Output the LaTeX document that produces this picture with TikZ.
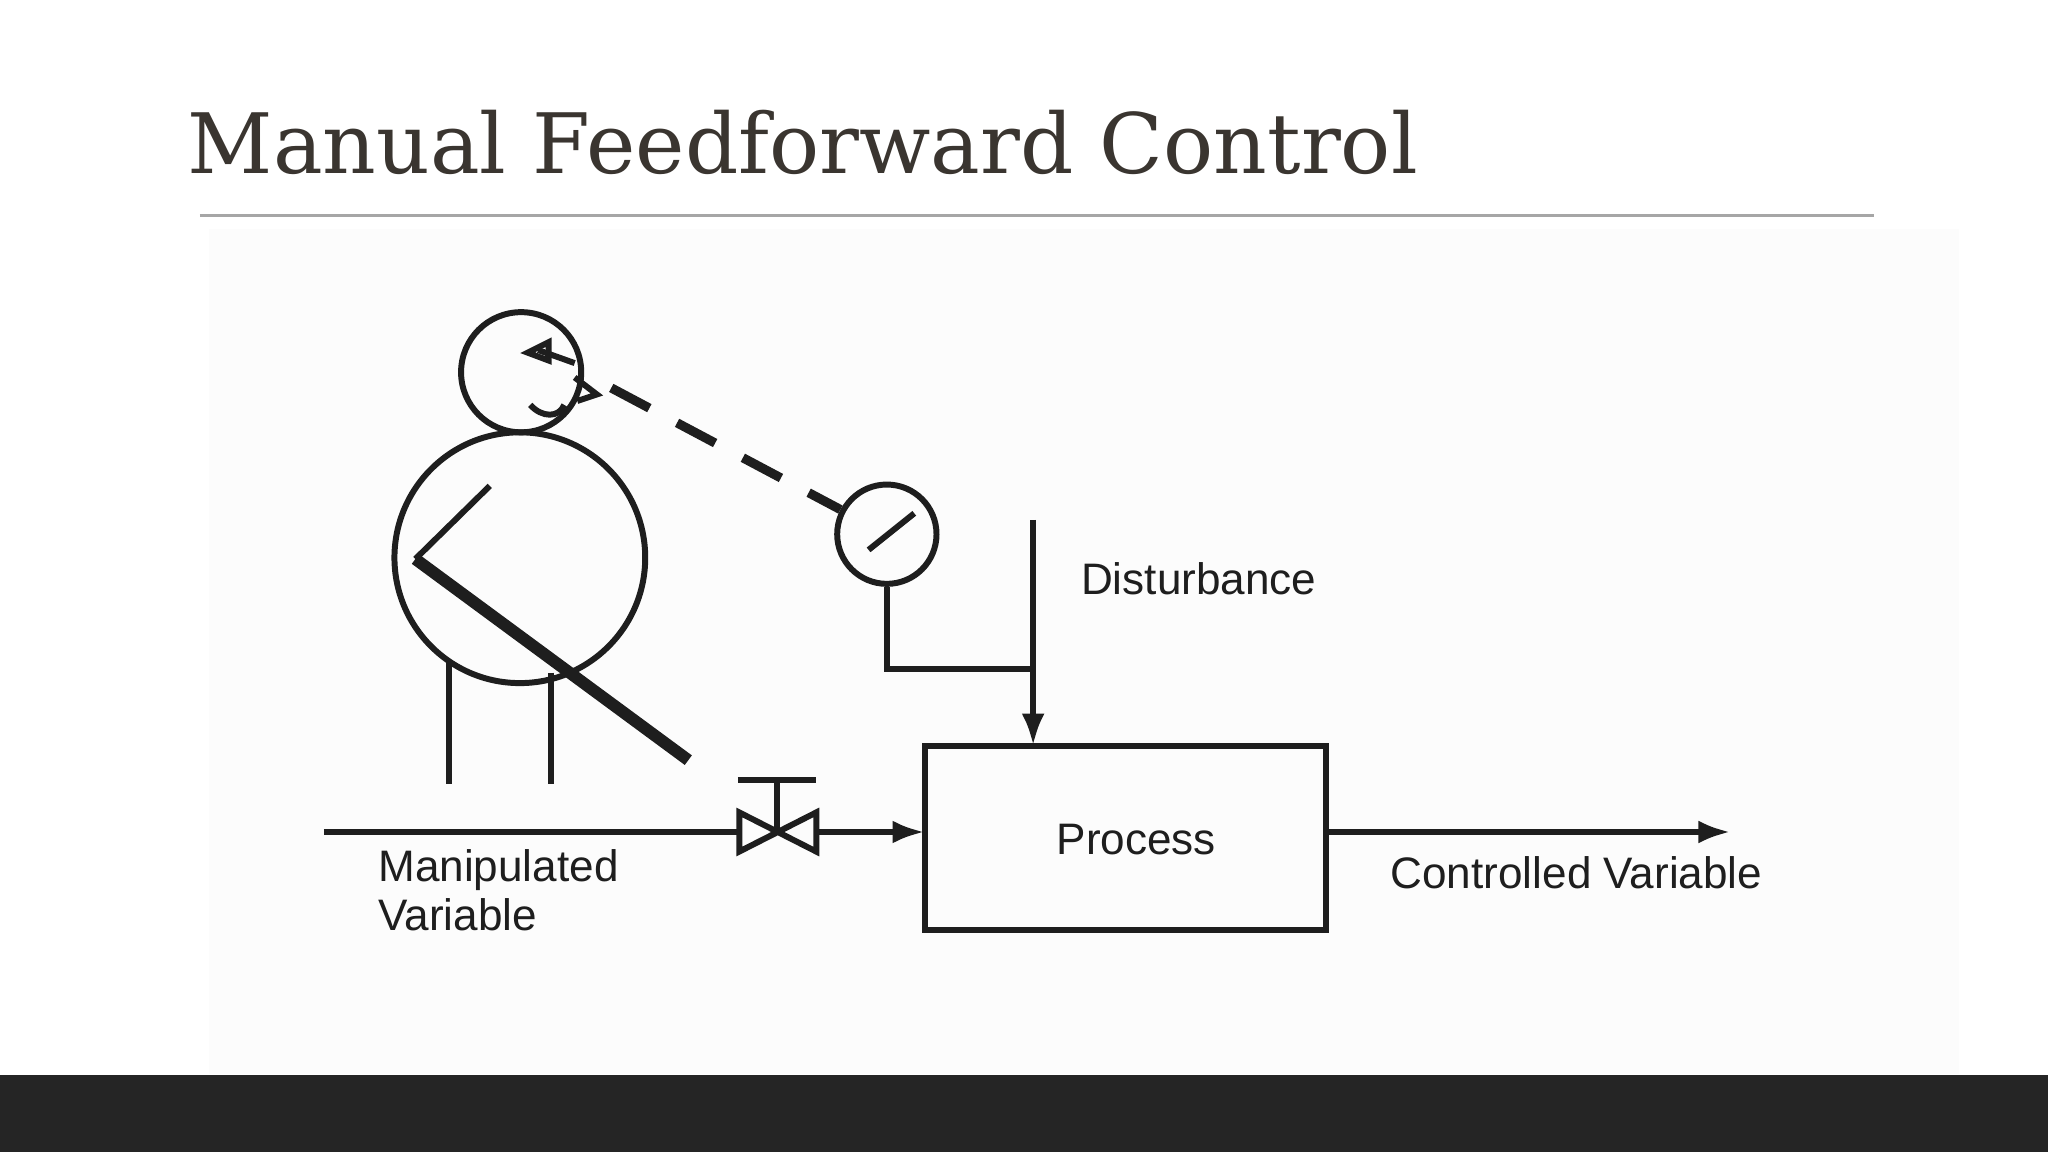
\documentclass[tikz,border=0pt]{standalone}
\usepackage{fontspec}
\setmainfont{Liberation Sans}
\newfontfamily\titlefont{DejaVu Serif}
\usetikzlibrary{arrows.meta}
\definecolor{ink}{HTML}{1E1E1E}
\definecolor{titlec}{HTML}{3A3530}
\definecolor{barc}{HTML}{252525}
\begin{document}
\begin{tikzpicture}[x=0.01cm,y=-0.01cm,
  ln/.style={draw=ink,line width=1.3pt},
  lbl/.style={text=ink,font=\fontsize{9.6}{11.5}\selectfont},
  arr/.style={-{Latex[length=7pt,width=5pt]}}]
\useasboundingbox (0,0) rectangle (1568,882);
\fill[white] (0,0) rectangle (1568,882);
\fill[black!1] (160,175) rectangle (1500,822);
\fill[barc] (0,823) rectangle (1568,882);
\node[anchor=base west,inner sep=0,text=titlec,font=\titlefont\fontsize{18.15}{22}\selectfont] (title) at (143,133) {Manual Feedforward Control};
\draw[black!35,line width=0.6pt] (153,165) -- (1435,165);
% person
\draw[ln] (399,285) circle (46);
\draw[ln] (398,427) circle (96);
\draw[ln] (344,505) -- (344,600);
\draw[ln] (422,515) -- (422,600);
\draw[ln,line width=2.6pt] (318,428) -- (527,582);
\draw[ln] (318,428) -- (375,372);
\draw[ln] (420,262) -- (404,270) -- (420,276) -- cycle;
\draw[ln] (412,268) -- (440,278);
\draw[ln] (440,289) -- (457,302) -- (442,307);
\draw[ln] (406,310) .. controls (415,320) and (428,320) .. (432,310);
% gauge
\node[circle,ln,minimum size=0.76cm,inner sep=0] (g) at (679,409) {};
\draw[ln] (665,421) -- (700,393);
\draw[ln,line width=2pt,dash pattern=on 0.33cm off 0.24cm] (468,297) -- (g);
% process
\node[draw=ink,line width=1.3pt,minimum width=3.07cm,minimum height=1.41cm,inner sep=0] (p) at (861.5,641.5) {};
\node[lbl] (pl) at (870,643) {Process};
\coordinate (dtop) at (791,398);
\coordinate (j) at (791,512);
\draw[ln,arr] (dtop) -- (791,571);
\draw[ln] (g.south) |- (j);
\node[lbl,anchor=west,inner sep=0] (dl) at (827,443) {Disturbance};
% manipulated
\coordinate (min) at (248,637);
\coordinate (pin) at (708,637);
\coordinate (pout) at (1015,637);
\draw[ln] (min) -- (566,637);
\draw[ln,arr] (625,637) -- (pin);
\draw[ln] (566,622) -- (625,652) -- (625,622) -- (566,652) -- cycle;
\draw[ln] (595,637) -- (595,597);
\draw[ln] (565,597) -- (625,597);
\node[lbl,anchor=north west,align=left,inner sep=0] (ml) at (289,650) {Manipulated\\[-1pt]Variable};
% output
\coordinate (out) at (1325,637);
\draw[ln,arr] (pout) -- (out);
\node[lbl] (cl) at (1207,668) {Controlled Variable};
\end{tikzpicture}
\end{document}
